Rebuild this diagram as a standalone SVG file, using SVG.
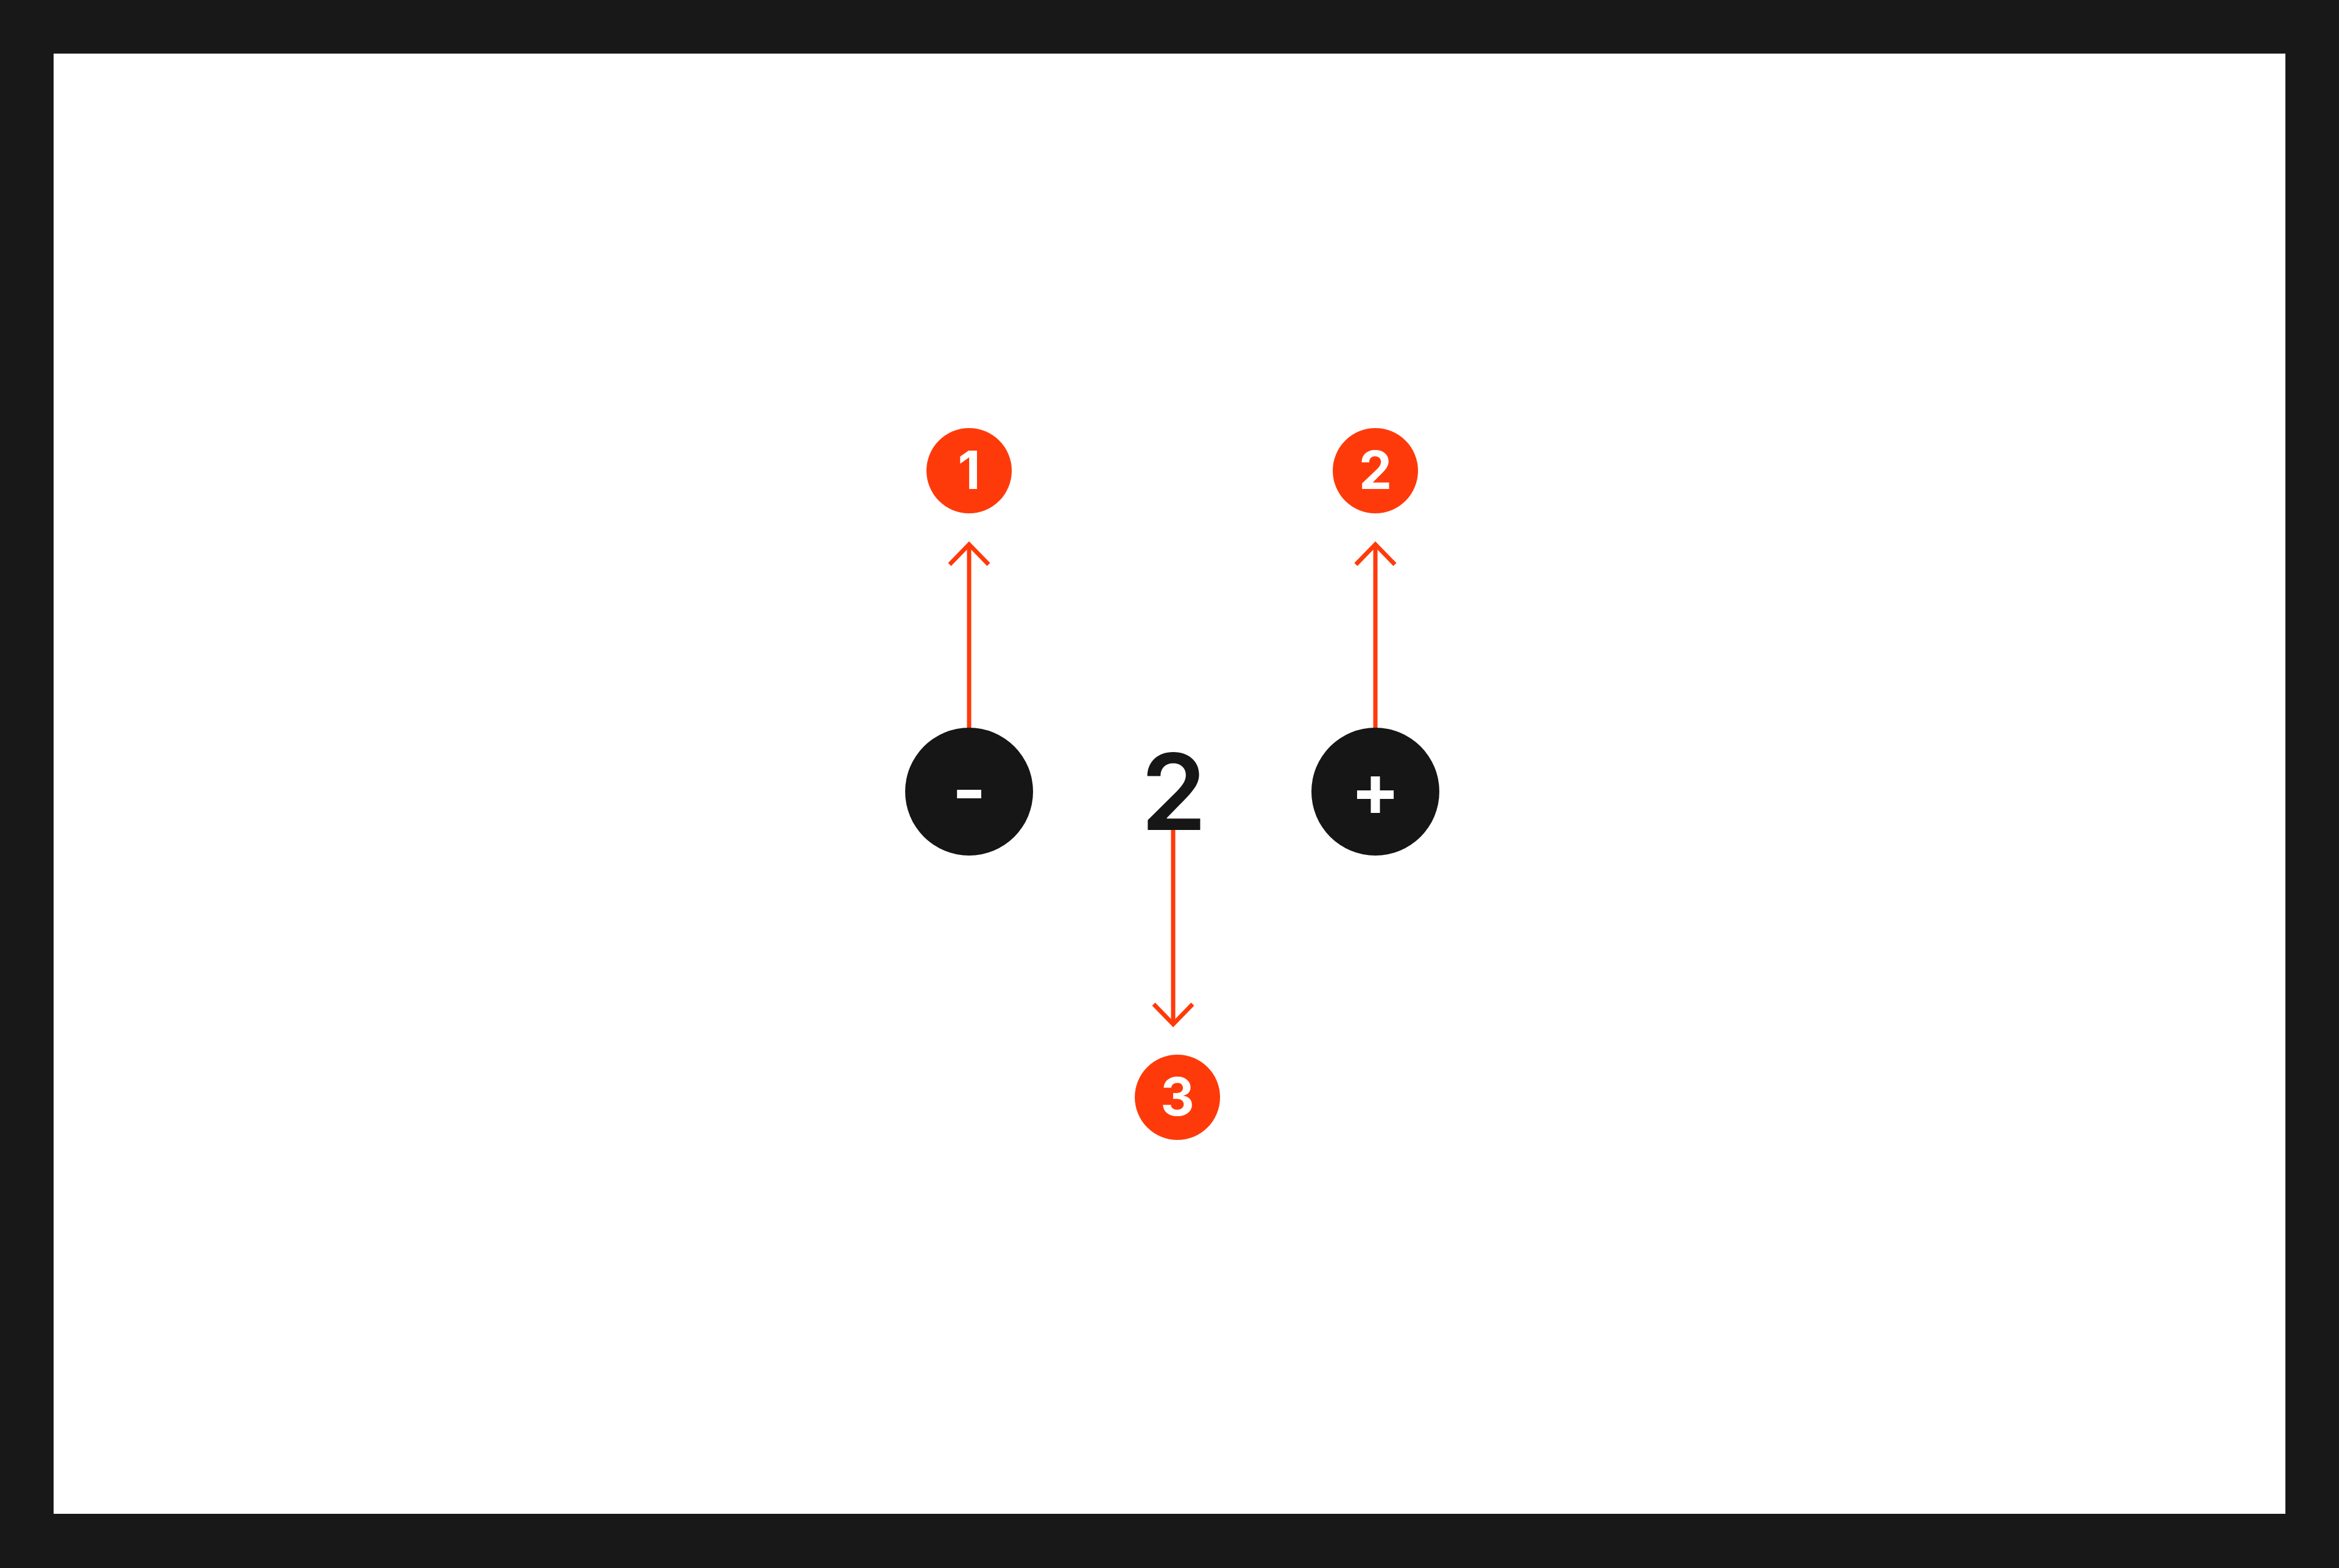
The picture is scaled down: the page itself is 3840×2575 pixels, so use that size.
<svg xmlns="http://www.w3.org/2000/svg" width="3840" height="2575" viewBox="0 0 3840 2575">
  <style>
    .badge { fill: #FF3A0A; }
    .btn { fill: #161616; }
    .badge-text { fill: #FFFFFF; font-family: Inter, "Liberation Sans", sans-serif; font-weight: 700; font-size: 86px; text-anchor: middle; }
    .btn-text { fill: #FFFFFF; font-family: Inter, "Liberation Sans", sans-serif; font-weight: 700; font-size: 120px; text-anchor: middle; }
    .value-text { fill: #161616; font-family: Inter, "Liberation Sans", sans-serif; font-weight: 600; font-size: 173px; text-anchor: middle; }
    .conn { stroke: #FF3A0A; stroke-width: 7; fill: none; }
  </style>
  <defs>
    <marker id="chev" markerUnits="userSpaceOnUse" viewBox="-45 -45 55 90" markerWidth="55" markerHeight="90" refX="0" refY="0" orient="auto" overflow="visible">
      <path d="M -33 -32 L 0 0 L -33 32" fill="none" stroke="#FF3A0A" stroke-width="7"/>
    </marker>
  </defs>
  <rect x="0" y="0" width="3840" height="2575" fill="#181818"/>
  <rect x="88" y="88" width="3664" height="2398" fill="#FFFFFF"/>

  <g id="connectors">
    <line class="conn" x1="1591" y1="1196" x2="1591" y2="894" marker-end="url(#chev)"/>
    <line class="conn" x1="2258" y1="1196" x2="2258" y2="894" marker-end="url(#chev)"/>
    <line class="conn" x1="1926" y1="1363" x2="1926" y2="1682" marker-end="url(#chev)"/>
  </g>

  <g id="minus-button">
    <circle class="btn" cx="1591" cy="1300" r="105"/>
    <text class="btn-text" x="1591" y="1340">-</text>
  </g>
  <g id="value">
    <text class="value-text" x="1927" y="1363">2</text>
  </g>
  <g id="plus-button">
    <circle class="btn" cx="2258" cy="1300" r="105"/>
    <text class="btn-text" x="2258" y="1340">+</text>
  </g>
  <g id="badge-1">
    <circle class="badge" cx="1591" cy="773" r="70"/>
    <text class="badge-text" x="1591" y="803">1</text>
  </g>
  <g id="badge-2">
    <circle class="badge" cx="2258" cy="773" r="70"/>
    <text class="badge-text" x="2258" y="803">2</text>
  </g>
  <g id="badge-3">
    <circle class="badge" cx="1933" cy="1802" r="70"/>
    <text class="badge-text" x="1933" y="1832">3</text>
  </g>
</svg>
